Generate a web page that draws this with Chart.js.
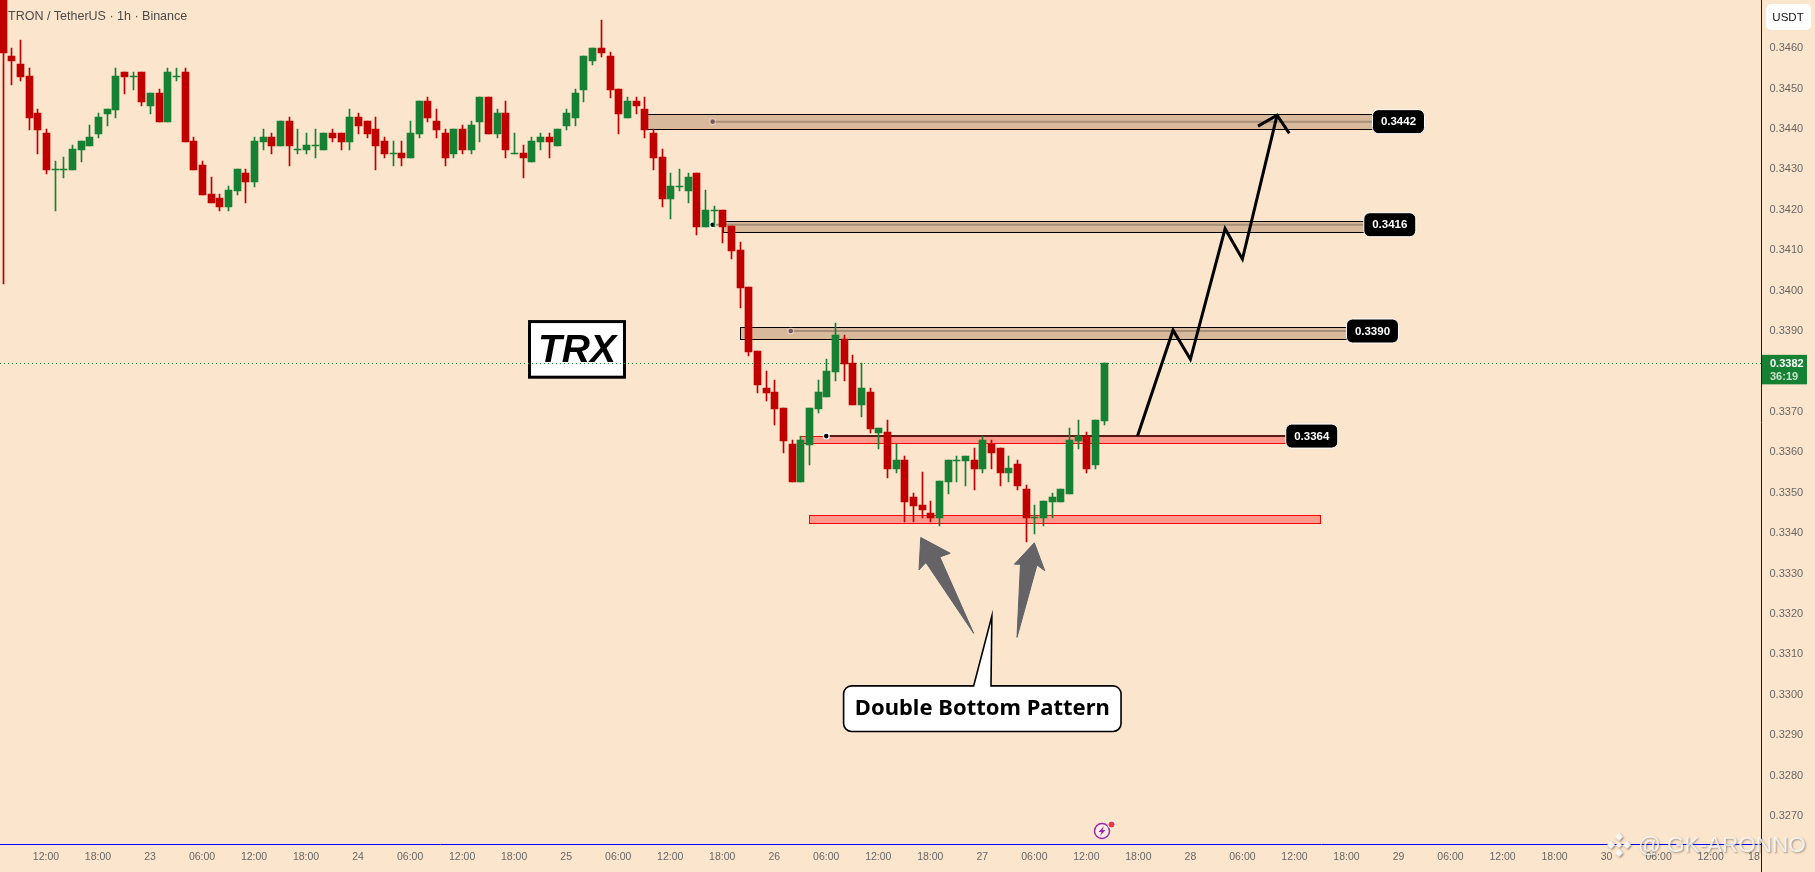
<!DOCTYPE html>
<html lang="en">
<head>
    <meta charset="UTF-8">
    <title>TRON / TetherUS 1h</title>
    <script src="https://cdn.jsdelivr.net/npm/chart.js"></script>
    <style>
        * {
            margin: 0;
            padding: 0;
            box-sizing: border-box;
        }

        body {
            background-color: #fce5cd;
            overflow: hidden;
        }

        #chart {
            display: block;
        }
    </style>
</head>
<body>
    <canvas id="chart" width="1815" height="872"></canvas>

    <script>
        // Hourly candles, index 0 = 22nd 07:00
        var opens = [
            0.3480, 0.3458, 0.3456, 0.3453, 0.3444, 0.3439, 0.3430, 0.3430, 0.3430, 0.3435,
            0.3436, 0.3439, 0.3444, 0.3445, 0.3454, 0.3453, 0.3454, 0.3446, 0.3449, 0.3442,
            0.3453, 0.3454, 0.3437, 0.3431, 0.3424, 0.3423, 0.3421, 0.3425, 0.3429, 0.3427,
            0.3437, 0.3438, 0.3436, 0.3442, 0.3435, 0.3435, 0.3436, 0.3435, 0.3439, 0.3439,
            0.3437, 0.3443, 0.3442, 0.3440, 0.3437, 0.3434, 0.3434, 0.3433, 0.3439, 0.3447,
            0.3442, 0.3439, 0.3434, 0.3440, 0.3435, 0.3442, 0.3448, 0.3439, 0.3444, 0.3434,
            0.3434, 0.3432, 0.3437, 0.3438, 0.3436, 0.3441, 0.3443, 0.3450, 0.3457, 0.3460,
            0.3458, 0.3450, 0.3443, 0.3447, 0.3445, 0.3439, 0.3433, 0.3423, 0.3426, 0.3425,
            0.3429, 0.3416, 0.3420, 0.3420, 0.3416, 0.3410, 0.3401, 0.3385, 0.3376, 0.3375,
            0.3371, 0.3362, 0.3353, 0.3362, 0.3371, 0.3374, 0.3380, 0.3388, 0.3382, 0.3372,
            0.3375, 0.3365, 0.3365, 0.3356, 0.3358, 0.3349, 0.3347, 0.3345, 0.3344, 0.3353,
            0.3358, 0.3358, 0.3358, 0.3356, 0.3362, 0.3361, 0.3355, 0.3357, 0.3351, 0.3344,
            0.3344, 0.3348, 0.3348, 0.3350, 0.3363, 0.3364, 0.3357, 0.3368
        ];
        var highs = [
            0.3485, 0.3460, 0.3462, 0.3455, 0.3445, 0.3440, 0.3432, 0.3433, 0.3436, 0.3437,
            0.3441, 0.3444, 0.3445, 0.3455, 0.3454, 0.3454, 0.3454, 0.3449, 0.3450, 0.3455,
            0.3455, 0.3455, 0.3438, 0.3432, 0.3428, 0.3424, 0.3426, 0.3430, 0.3430, 0.3438,
            0.3440, 0.3439, 0.3442, 0.3443, 0.3440, 0.3439, 0.3440, 0.3439, 0.3440, 0.3439,
            0.3445, 0.3444, 0.3442, 0.3443, 0.3438, 0.3437, 0.3437, 0.3442, 0.3447, 0.3448,
            0.3445, 0.3440, 0.3440, 0.3441, 0.3442, 0.3448, 0.3448, 0.3445, 0.3447, 0.3439,
            0.3436, 0.3438, 0.3439, 0.3439, 0.3440, 0.3445, 0.3450, 0.3458, 0.3460, 0.3467,
            0.3459, 0.3450, 0.3448, 0.3448, 0.3448, 0.3440, 0.3435, 0.3429, 0.3430, 0.3429,
            0.3429, 0.3425, 0.3421, 0.3420, 0.3416, 0.3412, 0.3401, 0.3385, 0.3380, 0.3378,
            0.3371, 0.3363, 0.3364, 0.3371, 0.3378, 0.3383, 0.3392, 0.3389, 0.3384, 0.3382,
            0.3376, 0.3366, 0.3368, 0.3362, 0.3359, 0.3350, 0.3355, 0.3348, 0.3353, 0.3358,
            0.3359, 0.3359, 0.3361, 0.3364, 0.3363, 0.3361, 0.3359, 0.3358, 0.3352, 0.3347,
            0.3348, 0.3350, 0.3351, 0.3366, 0.3368, 0.3365, 0.3368, 0.3382
        ];
        var lows = [
            0.3402, 0.3451, 0.3452, 0.3440, 0.3434, 0.3429, 0.3420, 0.3428, 0.3430, 0.3432,
            0.3436, 0.3438, 0.3441, 0.3443, 0.3449, 0.3450, 0.3446, 0.3444, 0.3442, 0.3442,
            0.3452, 0.3437, 0.3430, 0.3424, 0.3422, 0.3420, 0.3420, 0.3424, 0.3422, 0.3426,
            0.3435, 0.3434, 0.3436, 0.3431, 0.3434, 0.3434, 0.3433, 0.3435, 0.3437, 0.3435,
            0.3435, 0.3439, 0.3438, 0.3430, 0.3433, 0.3431, 0.3431, 0.3433, 0.3438, 0.3442,
            0.3438, 0.3431, 0.3433, 0.3434, 0.3434, 0.3437, 0.3439, 0.3438, 0.3433, 0.3434,
            0.3428, 0.3432, 0.3435, 0.3433, 0.3436, 0.3440, 0.3441, 0.3447, 0.3456, 0.3458,
            0.3448, 0.3439, 0.3443, 0.3444, 0.3438, 0.3430, 0.3421, 0.3418, 0.3425, 0.3422,
            0.3414, 0.3416, 0.3416, 0.3412, 0.3408, 0.3396, 0.3384, 0.3375, 0.3373, 0.3367,
            0.3360, 0.3353, 0.3353, 0.3357, 0.3370, 0.3374, 0.3378, 0.3378, 0.3372, 0.3369,
            0.3365, 0.3361, 0.3354, 0.3355, 0.3343, 0.3343, 0.3344, 0.3343, 0.3342, 0.3350,
            0.3353, 0.3352, 0.3351, 0.3355, 0.3356, 0.3352, 0.3353, 0.3351, 0.3338, 0.3340,
            0.3342, 0.3344, 0.3348, 0.3350, 0.3361, 0.3355, 0.3356, 0.3367
        ];
        var closes = [
            0.3459, 0.3457, 0.3453, 0.3443, 0.3440, 0.3430, 0.3430, 0.3430, 0.3435, 0.3437,
            0.3438, 0.3443, 0.3445, 0.3453, 0.3453, 0.3453, 0.3447, 0.3449, 0.3442, 0.3454,
            0.3453, 0.3437, 0.3430, 0.3424, 0.3422, 0.3421, 0.3425, 0.3430, 0.3427, 0.3437,
            0.3438, 0.3436, 0.3442, 0.3436, 0.3435, 0.3436, 0.3436, 0.3439, 0.3438, 0.3437,
            0.3443, 0.3441, 0.3439, 0.3436, 0.3434, 0.3434, 0.3433, 0.3439, 0.3447, 0.3443,
            0.3440, 0.3433, 0.3440, 0.3435, 0.3441, 0.3448, 0.3439, 0.3444, 0.3435, 0.3434,
            0.3433, 0.3437, 0.3438, 0.3437, 0.3440, 0.3444, 0.3449, 0.3458, 0.3460, 0.3459,
            0.3450, 0.3444, 0.3447, 0.3446, 0.3440, 0.3433, 0.3423, 0.3426, 0.3426, 0.3428,
            0.3416, 0.3420, 0.3420, 0.3416, 0.3410, 0.3401, 0.3385, 0.3377, 0.3375, 0.3371,
            0.3363, 0.3353, 0.3363, 0.3371, 0.3375, 0.3380, 0.3389, 0.3382, 0.3372, 0.3376,
            0.3366, 0.3366, 0.3356, 0.3358, 0.3348, 0.3347, 0.3346, 0.3344, 0.3353, 0.3358,
            0.3358, 0.3359, 0.3356, 0.3363, 0.3360, 0.3355, 0.3356, 0.3352, 0.3344, 0.3344,
            0.3348, 0.3349, 0.3351, 0.3363, 0.3364, 0.3356, 0.3368, 0.3382
        ];

        // Axis ticks
        var priceTicks = [
            0.3460, 0.3450, 0.3440, 0.3430, 0.3420, 0.3410, 0.3400, 0.3390, 0.3370, 0.3360,
            0.3350, 0.3340, 0.3330, 0.3320, 0.3310, 0.3300, 0.3290, 0.3280, 0.3270
        ];
        var timeTicks = [
            5, 11, 17, 23, 29, 35, 41, 47, 53, 59, 65, 71, 77, 83, 89, 95, 101,
            107, 113, 119, 125, 131, 137, 143, 149, 155, 161, 167, 173, 179, 185, 191, 197, 202
        ];
        var timeLabels = [
            '12:00', '18:00', '23', '06:00', '12:00', '18:00', '24', '06:00', '12:00', '18:00', '25',
            '06:00', '12:00', '18:00', '26', '06:00', '12:00', '18:00', '27', '06:00', '12:00', '18:00',
            '28', '06:00', '12:00', '18:00', '29', '06:00', '12:00', '18:00', '30', '06:00', '12:00', '18'
        ];

        // Drawn levels: x in candle hours, y in price
        var levelNames = ['0.3442', '0.3416', '0.3390', '0.3364'];
        var levelPrices = [0.34418, 0.34163, 0.33900, 0.33640];
        var levelTops = [0.34436, 0.34171, 0.33911, 0.33641];
        var levelBottoms = [0.34399, 0.34146, 0.33881, 0.33622];
        var levelStarts = [74.1, 83.1, 85, 92];
        var levelEnds = [158, 157, 155, 148];
        var levelDots = [81.9, 81.9, 90.9, 95];

        // Projected path and its arrow head
        var pathHours = [130.9, 135, 137, 141, 143, 147];
        var pathPrices = [0.33640, 0.33902, 0.33830, 0.34153, 0.34078, 0.34434];
        var headHours = [144.8, 147, 148.4];
        var headPrices = [0.34407, 0.34434, 0.34389];

        // Grey arrows pointing at the two bottoms
        var arrowOneHours = [105.9, 109.3, 108.1, 112, 106.5, 105.7];
        var arrowOnePrices = [0.33389, 0.33350, 0.33341, 0.33152, 0.33327, 0.33309];
        var arrowTwoHours = [119, 120.2, 119.3, 117, 117.4, 116.7];
        var arrowTwoPrices = [0.33376, 0.33307, 0.33321, 0.33142, 0.33323, 0.33323];

        var lastPrice = 0.3382;
        var red = '#c00000';
        var green = '#168033';
        var sans = '"Liberation Sans", sans-serif';

        var hours = opens.map(function (v, i) { return i; });

        function candleColor(i) {
            return closes[i] >= opens[i] ? green : red;
        }

        function roundBox(ctx, x, y, w, h, r) {
            ctx.beginPath();
            ctx.roundRect(x, y, w, h, r);
        }

        function polyline(ctx, chart, xs, ys) {
            ctx.beginPath();
            xs.forEach(function (h, i) {
                var px = chart.scales.x.getPixelForValue(h);
                var py = chart.scales.y.getPixelForValue(ys[i]);
                if (i === 0) ctx.moveTo(px, py); else ctx.lineTo(px, py);
            });
        }

        // Pin the plot to the page edges, the axes leave padding for their end labels otherwise
        var pinPlugin = {
            id: 'pin',
            afterLayout: function (chart) {
                var area = chart.chartArea;
                var x = chart.scales.x;
                var y = chart.scales.y;
                area.left = 0;
                area.top = 0;
                area.right = 1761.5;
                area.bottom = 844;
                area.width = 1761.5;
                area.height = 844;
                x.left = 0;
                x.right = 1761.5;
                x.width = 1761.5;
                x.top = 844;
                x.bottom = 872;
                x.configure();
                y.top = 0;
                y.bottom = 844;
                y.height = 844;
                y.left = 1761.5;
                y.right = 1815;
                y.configure();
            }
        };

        // Snap candles to whole pixels so they stay crisp
        var snapPlugin = {
            id: 'snap',
            afterDatasetsUpdate: function (chart) {
                chart.data.datasets.forEach(function (ds, d) {
                    chart.getDatasetMeta(d).data.forEach(function (el) {
                        var top = Math.min(el.y, el.base);
                        var bottom = Math.max(el.y, el.base);
                        el.x = Math.round(el.x) + 0.5;
                        el.y = Math.round(top);
                        el.base = Math.round(bottom) + 1;
                    });
                });
            }
        };

        // Things that sit behind the candles
        var backPlugin = {
            id: 'back',
            beforeDatasetsDraw: function (chart) {
                var ctx = chart.ctx;
                var x = chart.scales.x;
                var y = chart.scales.y;
                ctx.save();

                // TRX box
                var bl = x.getPixelForValue(60.6), br = x.getPixelForValue(71.9);
                var bt = y.getPixelForValue(0.33927), bb = y.getPixelForValue(0.33782);
                ctx.fillStyle = '#ffffff';
                ctx.strokeStyle = '#000000';
                ctx.lineWidth = 3;
                ctx.fillRect(bl + 1.5, bt + 1.5, br - bl - 3, bb - bt - 3);
                ctx.strokeRect(bl + 1.5, bt + 1.5, br - bl - 3, bb - bt - 3);
                ctx.fillStyle = '#000000';
                ctx.font = 'italic bold 39px ' + sans;
                ctx.textAlign = 'center';
                ctx.textBaseline = 'alphabetic';
                ctx.fillText('TRX', (bl + br) / 2, 362);

                // last price line
                var ly = Math.round(y.getPixelForValue(lastPrice)) + 0.5;
                ctx.strokeStyle = green;
                ctx.lineWidth = 1;
                ctx.setLineDash([1, 3]);
                ctx.beginPath();
                ctx.moveTo(0, ly);
                ctx.lineTo(chart.chartArea.right, ly);
                ctx.stroke();
                ctx.setLineDash([]);

                // lower support zone
                var zl = Math.round(x.getPixelForValue(93)) + 0.5;
                var zr = Math.round(x.getPixelForValue(152)) + 0.5;
                var zt = Math.round(y.getPixelForValue(0.33444)) + 0.5;
                var zb = Math.round(y.getPixelForValue(0.33424)) + 0.5;
                ctx.fillStyle = '#ff9a8c';
                ctx.strokeStyle = '#ff0000';
                ctx.fillRect(zl, zt, zr - zl, zb - zt);
                ctx.strokeRect(zl, zt, zr - zl, zb - zt);

                // level zones
                levelNames.forEach(function (name, i) {
                    var isRed = i === 3;
                    var l = Math.round(x.getPixelForValue(levelStarts[i])) + 0.5;
                    var r = Math.round(x.getPixelForValue(levelEnds[i])) + 0.5;
                    var t = Math.round(y.getPixelForValue(levelTops[i])) + 0.5;
                    var b = Math.round(y.getPixelForValue(levelBottoms[i])) + 0.5;
                    var m = y.getPixelForValue(levelPrices[i]);
                    var d = x.getPixelForValue(levelDots[i]);
                    ctx.fillStyle = isRed ? '#ff9a8c' : '#d9b99b';
                    ctx.strokeStyle = isRed ? '#ff0000' : '#000000';
                    ctx.lineWidth = 1;
                    ctx.fillRect(l, t, r - l, b - t);
                    ctx.strokeRect(l, t, r - l, b - t);
                    ctx.strokeStyle = isRed ? '#5c1a14' : '#a88f78';
                    ctx.lineWidth = 2;
                    ctx.beginPath();
                    ctx.moveTo(d, m);
                    ctx.lineTo(r, m);
                    ctx.stroke();
                    ctx.fillStyle = (i === 0 || i === 2) ? 'rgba(255,255,255,0.35)' : '#ffffff';
                    ctx.beginPath();
                    ctx.arc(d, m, 3.5, 0, Math.PI * 2);
                    ctx.fill();
                    ctx.fillStyle = (i === 0 || i === 2) ? '#7a5a58' : '#000000';
                    ctx.beginPath();
                    ctx.arc(d, m, 2.3, 0, Math.PI * 2);
                    ctx.fill();
                });
                ctx.restore();
            }
        };

        // Things that sit on top of the candles
        var frontPlugin = {
            id: 'front',
            afterDatasetsDraw: function (chart) {
                var ctx = chart.ctx;
                var x = chart.scales.x;
                var y = chart.scales.y;
                ctx.save();

                // projected path
                ctx.strokeStyle = '#000000';
                ctx.lineWidth = 3;
                ctx.lineJoin = 'miter';
                polyline(ctx, chart, pathHours, pathPrices);
                ctx.stroke();
                polyline(ctx, chart, headHours, headPrices);
                ctx.stroke();

                // grey arrows
                ctx.fillStyle = '#666366';
                ctx.strokeStyle = '#5b6068';
                ctx.lineWidth = 1;
                [[arrowOneHours, arrowOnePrices], [arrowTwoHours, arrowTwoPrices]].forEach(function (a) {
                    polyline(ctx, chart, a[0], a[1]);
                    ctx.closePath();
                    ctx.fill();
                    ctx.stroke();
                });

                // callout
                var cl = x.getPixelForValue(97), cr = x.getPixelForValue(129);
                var ct = y.getPixelForValue(0.33022), cb = y.getPixelForValue(0.32909);
                var p1 = x.getPixelForValue(112), p2 = x.getPixelForValue(114);
                var tipX = x.getPixelForValue(114.1), tipY = y.getPixelForValue(0.33195);
                var rad = 8;
                ctx.fillStyle = '#ffffff';
                ctx.strokeStyle = '#000000';
                ctx.lineWidth = 1.6;
                ctx.beginPath();
                ctx.moveTo(cl + rad, ct);
                ctx.lineTo(p1, ct);
                ctx.lineTo(tipX, tipY);
                ctx.lineTo(p2, ct);
                ctx.arcTo(cr, ct, cr, cb, rad);
                ctx.arcTo(cr, cb, cl, cb, rad);
                ctx.arcTo(cl, cb, cl, ct, rad);
                ctx.arcTo(cl, ct, cr, ct, rad);
                ctx.closePath();
                ctx.fill();
                ctx.stroke();
                ctx.fillStyle = '#000000';
                ctx.font = 'bold 22px "Noto Sans", sans-serif';
                ctx.textAlign = 'center';
                ctx.textBaseline = 'middle';
                ctx.fillText('Double Bottom Pattern', (cl + cr) / 2, (ct + cb) / 2);

                // level tags
                levelNames.forEach(function (name, i) {
                    var l = x.getPixelForValue(levelEnds[i]);
                    var m = y.getPixelForValue(levelPrices[i]);
                    ctx.fillStyle = '#000000';
                    ctx.strokeStyle = '#ffffff';
                    ctx.lineWidth = 1;
                    roundBox(ctx, l, m - 12, 52, 24, 6);
                    ctx.fill();
                    ctx.stroke();
                    ctx.fillStyle = '#ffffff';
                    ctx.font = 'bold 11.5px ' + sans;
                    ctx.textAlign = 'center';
                    ctx.fillText(name, l + 26, m + 0.5);
                });

                ctx.restore();
            },
            afterDraw: function (chart) {
                var ctx = chart.ctx;
                var area = chart.chartArea;
                var ly = chart.scales.y.getPixelForValue(lastPrice);
                ctx.save();

                // title
                ctx.fillStyle = '#4a4a4a';
                ctx.font = '12.5px ' + sans;
                ctx.textAlign = 'left';
                ctx.textBaseline = 'middle';
                ctx.fillText('TRON / TetherUS \u00b7 1h \u00b7 Binance', 8, 17);

                // axis line runs on below the time scale
                ctx.strokeStyle = '#0000e6';
                ctx.lineWidth = 1;
                ctx.beginPath();
                ctx.moveTo(1761.5, area.bottom);
                ctx.lineTo(1761.5, chart.height);
                ctx.stroke();

                // currency button
                ctx.fillStyle = '#ffffff';
                roundBox(ctx, 1766, 4, 45, 26, 5);
                ctx.fill();
                ctx.fillStyle = '#111111';
                ctx.font = '11.5px ' + sans;
                ctx.textAlign = 'center';
                ctx.fillText('USDT', 1788, 17.5);

                // last price tag
                ctx.fillStyle = green;
                ctx.fillRect(1762, ly - 8.5, 45, 29.5);
                ctx.fillStyle = '#ffffff';
                ctx.font = 'bold 11px ' + sans;
                ctx.textAlign = 'left';
                ctx.fillText(lastPrice.toFixed(4), 1770, ly + 0.5);
                ctx.fillStyle = '#c6e2cf';
                ctx.fillText('36:19', 1770, ly + 14);

                // lightning badge
                ctx.strokeStyle = '#9c27b0';
                ctx.lineWidth = 1.5;
                ctx.fillStyle = '#fdf0e4';
                ctx.beginPath();
                ctx.arc(1102, 831, 7.5, 0, Math.PI * 2);
                ctx.fill();
                ctx.stroke();
                ctx.fillStyle = '#9c27b0';
                ctx.beginPath();
                ctx.moveTo(1104, 826);
                ctx.lineTo(1098.5, 832);
                ctx.lineTo(1101.5, 832);
                ctx.lineTo(1100, 836);
                ctx.lineTo(1105.5, 830);
                ctx.lineTo(1102.5, 830);
                ctx.closePath();
                ctx.fill();
                ctx.fillStyle = '#ffffff';
                ctx.beginPath();
                ctx.arc(1111.5, 824.5, 4, 0, Math.PI * 2);
                ctx.fill();
                ctx.fillStyle = '#f23645';
                ctx.beginPath();
                ctx.arc(1111.5, 824.5, 3, 0, Math.PI * 2);
                ctx.fill();

                // watermark
                ctx.shadowColor = 'rgba(90,80,70,0.7)';
                ctx.shadowBlur = 2;
                ctx.shadowOffsetX = 1;
                ctx.shadowOffsetY = 1;
                ctx.fillStyle = 'rgba(255,255,255,0.9)';
                [[1619, 837], [1611, 845], [1627, 845], [1619, 853], [1619, 845]].forEach(function (c, i) {
                    var s = (i === 4) ? 3 : 4;
                    ctx.beginPath();
                    ctx.moveTo(c[0], c[1] - s);
                    ctx.lineTo(c[0] + s, c[1]);
                    ctx.lineTo(c[0], c[1] + s);
                    ctx.lineTo(c[0] - s, c[1]);
                    ctx.closePath();
                    ctx.fill();
                });
                ctx.fillStyle = 'rgba(255,255,255,0.8)';
                ctx.font = '22.5px ' + sans;
                ctx.textAlign = 'left';
                ctx.fillText('@ GK-ARONNO', 1638, 846);

                ctx.restore();
            }
        };

        var chart = new Chart(document.getElementById('chart').getContext('2d'), {
            type: 'bar',
            data: {
                datasets: [{
                    label: 'wicks',
                    data: hours.map(function (h, i) { return { x: h, y: [lows[i], highs[i]] }; }),
                    backgroundColor: hours.map(candleColor),
                    barThickness: 1,
                    grouped: false
                }, {
                    label: 'bodies',
                    data: hours.map(function (h, i) { return { x: h, y: [opens[i], closes[i]] }; }),
                    backgroundColor: hours.map(candleColor),
                    barThickness: 7,
                    grouped: false
                }]
            },
            options: {
                responsive: false,
                animation: false,
                devicePixelRatio: 1,
                layout: { padding: 0, autoPadding: false },
                plugins: {
                    legend: { display: false },
                    tooltip: { enabled: false }
                },
                scales: {
                    x: {
                        type: 'linear',
                        offset: false,
                        min: -0.3,
                        max: 202.87,
                        grid: { display: false, drawTicks: false },
                        border: { display: true, color: '#0000ff', width: 1 },
                        afterBuildTicks: function (scale) {
                            scale.ticks = timeTicks.map(function (v) { return { value: v }; });
                        },
                        afterFit: function (scale) {
                            scale.height = 28;
                        },
                        ticks: {
                            autoSkip: false,
                            maxRotation: 0,
                            padding: 7,
                            color: '#666666',
                            font: { family: 'Liberation Sans', size: 10.5 },
                            callback: function (value, index) { return timeLabels[index]; }
                        }
                    },
                    y: {
                        position: 'right',
                        min: 0.326307,
                        max: 0.34719,
                        grid: { display: false, drawTicks: false },
                        border: { display: true, color: '#0000e6', width: 1 },
                        afterBuildTicks: function (scale) {
                            scale.ticks = priceTicks.map(function (v) { return { value: v }; });
                        },
                        afterFit: function (scale) {
                            scale.width = 53.5;
                        },
                        ticks: {
                            autoSkip: false,
                            padding: 8,
                            color: '#666666',
                            font: { family: 'Liberation Sans', size: 11 },
                            callback: function (value) { return value.toFixed(4); }
                        }
                    }
                }
            },
            plugins: [pinPlugin, snapPlugin, backPlugin, frontPlugin]
        });
    </script>
</body>
</html>
